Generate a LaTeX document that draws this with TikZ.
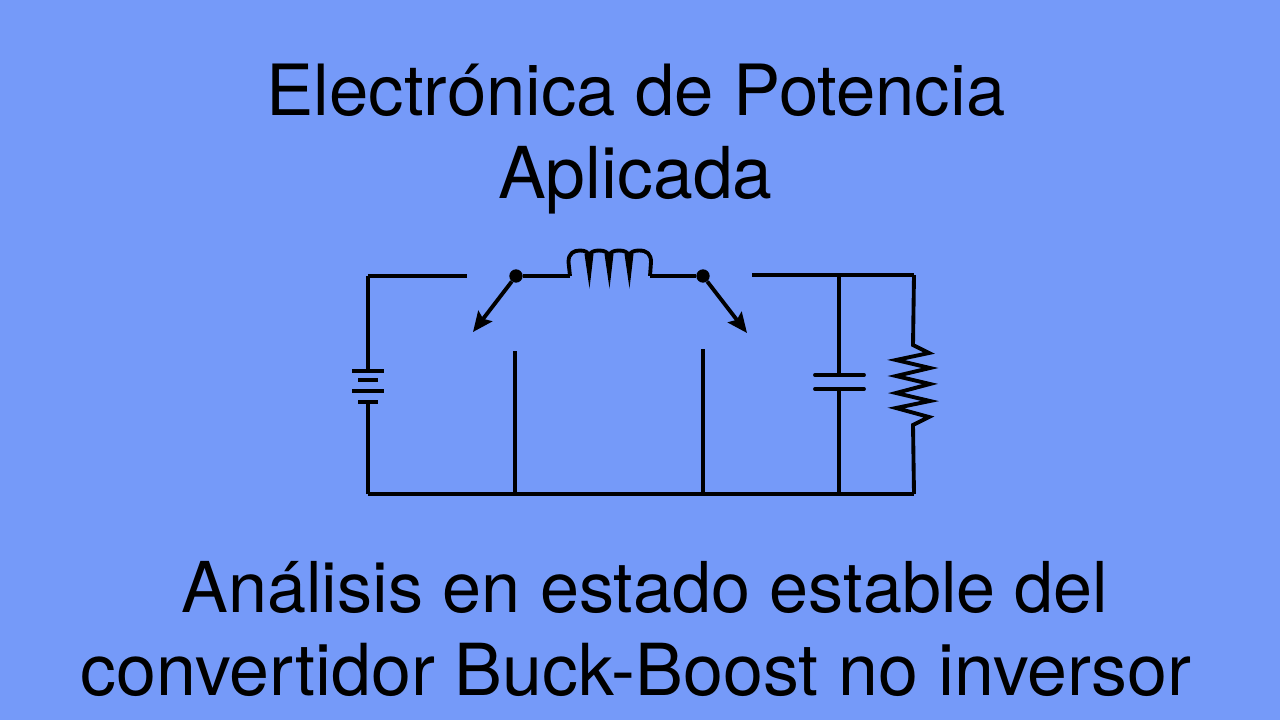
\documentclass[tikz,border=0pt]{standalone}
\usepackage{fontspec}
\setmainfont{TeX Gyre Heros}
\usetikzlibrary{arrows.meta}
\definecolor{bgblue}{HTML}{759AF9}
\tikzset{
  wire/.style={draw=black,line width=2.9pt,line cap=butt,line join=miter},
  title/.style={anchor=base,inner sep=0pt,text=black},
  junction/.style={circle,fill=black,inner sep=0pt,minimum size=10pt},
  switch/.style={wire,-{Stealth[length=15pt,width=13pt,inset=2.5pt]}},
  spike/.style={fill=black,draw=none}
}
\begin{document}
\begin{tikzpicture}[x=0.75pt,y=-0.75pt]
\useasboundingbox (0,0) rectangle (1280,720);
\fill[bgblue] (0,0) rectangle (1280,720);
% texts
\node[title,font=\fontsize{53}{60}\selectfont] (t1) at (636,115.5) {Electrónica de Potencia};
\node[title,font=\fontsize{53.7}{60}\selectfont] (t2) at (635.5,199) {Aplicada};
\node[title,font=\fontsize{52.6}{60}\selectfont] (t3) at (645,612) {Análisis en estado estable del};
\node[title,font=\fontsize{53.8}{60}\selectfont] (t4) at (636,695.5) {convertidor Buck-Boost no inversor};
% anchor points
\node[junction] (swl) at (516,276) {};
\node[junction] (swr) at (703,276) {};
\coordinate (al) at (473,332);
\coordinate (ar) at (747,333);
\coordinate (lw) at (467,276);
\coordinate (tl) at (368,276);
\coordinate (bl) at (368,494);
\coordinate (rw) at (752,275);
\coordinate (tc) at (839,275);
\coordinate (tr) at (914,275);
\coordinate (bc) at (839,494);
\coordinate (br) at (914,494);
\coordinate (sl) at (515,351);
\coordinate (sr) at (703,349);
\coordinate (bsl) at (515,494);
\coordinate (bsr) at (703,494);
\coordinate (il) at (570,276);
\coordinate (ir) at (650,276);
% battery
\draw[wire,line cap=square] (tl) -- (368,371);
\draw[wire] (368,402) -- (bl);
\draw[wire] (352,371) -- (384,371);
\draw[wire] (358,380) -- (378,380);
\draw[wire] (352,391) -- (384,391);
\draw[wire] (358,402) -- (378,402);
% top wires
\draw[wire] (tl) -- (lw);
\draw[wire] (rw) -- (tr);
\draw[wire] (swl) -- (il);
\draw[wire] (ir) -- (swr);
% inductor
\draw[wire,line join=round] (il) -- (568.5,262)
  .. controls (568.5,253) and (574,250.5) .. (580,250.5)
  .. controls (585,250.5) and (588,252) .. (589,256)
  .. controls (590,252) and (594,250.5) .. (599,250.5)
  .. controls (604,250.5) and (608,252) .. (609,256)
  .. controls (610,252) and (614,250.5) .. (619,250.5)
  .. controls (624,250.5) and (628,252) .. (629,256)
  .. controls (630,252) and (634,250.5) .. (639,250.5)
  .. controls (647,250.5) and (651,254) .. (651,262) -- (ir);
\fill[spike] (584.5,254) -- (593.5,254) -- (589.5,288.5) -- cycle;
\fill[spike] (604.5,254) -- (613.5,254) -- (609.5,288.5) -- cycle;
\fill[spike] (624.5,254) -- (633.5,254) -- (629.5,288.5) -- cycle;
% switches
\draw[switch] (swl) -- (al);
\draw[switch] (swr) -- (ar);
\draw[wire] (sl) -- (bsl);
\draw[wire] (sr) -- (bsr);
% bottom rail
\draw[wire,line cap=square] (bl) -- (br);
% capacitor
\draw[wire] (tc) -- (839,375);
\draw[wire] (839,389) -- (bc);
\draw[wire,line cap=round] (815,375) -- (864,375);
\draw[wire,line cap=round] (815,389) -- (864,389);
% resistor
\draw[wire,miter limit=10] (tr) -- (913,345) -- (929,353) -- (896,360) -- (930,368) -- (896,376) -- (930,384) -- (896,393) -- (930,401) -- (896,408) -- (929,417) -- (913,425) -- (br);
\end{tikzpicture}
\end{document}
